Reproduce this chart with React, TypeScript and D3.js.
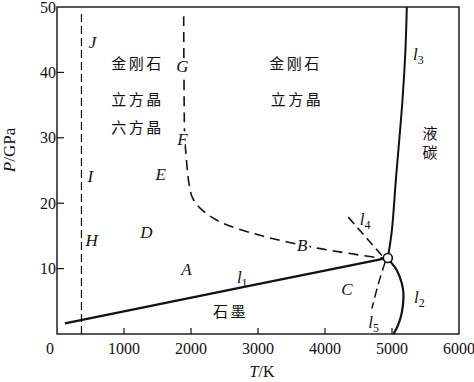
import React from 'react';
import * as d3 from 'd3';

const W = 474;
const H = 382;

const tempTicks = [0, 1000, 2000, 3000, 4000, 5000, 6000];
const presTicks = [0, 10, 20, 30, 40, 50];

const triplePoint: [number, number] = [4938, 11.63];

// solid lines
const lineL1: [number, number][] = [[119, 1.63], [2739, 7.1], [4938, 11.63]];
const lineL2: [number, number][] = [[4938, 11.63], [4990, 10.9], [5072, 9.76], [5147, 7.73], [5171, 6.2], [5160, 4.2], [5132, 2.64], [5080, 1.1], [5022, 0]];
const lineL3: [number, number][] = [[4938, 11.63], [4998, 15.85], [5057, 23.5], [5156, 35.7], [5200, 43.3], [5221, 50]];

// dashed lines
const lineL4: [number, number][] = [[4849, 12.0], [4328, 18.1]];
const lineL5: [number, number][] = [[4898, 11.0], [4798, 7.73], [4700, 3.9]];
const lineBFG: [number, number][] = [[1891, 48.6], [1895, 40], [1906, 30.1], [1921, 28.0], [1970, 23.0], [2020, 20.9], [2144, 19.16], [2442, 17.1], [2937, 15.35], [3435, 14.07], [3930, 13.06], [4775, 11.7], [4900, 11.63]];
const lineJI: [number, number][] = [[365, 0], [365, 49.4]];

// letter labels [T, P, text, sits on a line]
const letterLabels: [number, number, string, boolean][] = [
  [531, 44.6, 'J', false],
  [1871, 41.0, 'G', true],
  [1871, 29.8, 'F', true],
  [1548, 24.5, 'E', false],
  [496, 24.2, 'I', false],
  [517, 14.3, 'H', false],
  [1335, 15.6, 'D', false],
  [1931, 10.0, 'A', false],
  [3658, 13.6, 'B', true],
  [4328, 6.8, 'C', false],
];

// line labels [T, P, index]
const lineLabels: [number, number, string][] = [
  [2765, 8.7, '1'],
  [5409, 5.7, '2'],
  [5394, 42.8, '3'],
  [4600, 17.6, '4'],
  [4724, 1.9, '5'],
];

// Chinese region labels [T, P, text]
const regionLabels: [number, number, string][] = [
  [1201, 41.3, '金刚石'],
  [1201, 35.9, '立方晶'],
  [1201, 31.6, '六方晶'],
  [3558, 41.3, '金刚石'],
  [3583, 35.9, '立方晶'],
  [2590, 3.4, '石墨'],
];
const liquidLabel: [number, number, string[]] = [5568, 30.6, ['液', '碳']];

const serif = '"Liberation Serif", "DejaVu Serif", serif';
const cjk = '"Noto Sans CJK SC", sans-serif';

export default function App() {
  const x = d3.scaleLinear().domain([0, 6000]).range([57, 459]);
  const y = d3.scaleLinear().domain([0, 50]).range([334, 7]);

  const straight = d3.line<[number, number]>().x(d => x(d[0])).y(d => y(d[1]));
  const smooth = d3.line<[number, number]>().x(d => x(d[0])).y(d => y(d[1])).curve(d3.curveCatmullRom.alpha(0.5));

  return (
    <svg width={W} height={H} style={{ position: 'absolute', left: 0, top: 0, background: '#fff' }}>
      <rect x={0} y={0} width={W} height={H} fill="#fff" />
      {/* frame */}
      <rect x={x(0)} y={y(50)} width={x(6000) - x(0)} height={y(0) - y(50)} fill="none" stroke="#111" strokeWidth={1.4} />
      {/* ticks */}
      {tempTicks.slice(1, -1).map(t => (
        <line key={'tx' + t} x1={x(t)} x2={x(t)} y1={y(0)} y2={y(0) - 6} stroke="#111" strokeWidth={1.2} />
      ))}
      {presTicks.slice(1, -1).map(p => (
        <line key={'ty' + p} x1={x(0)} x2={x(0) + 7} y1={y(p)} y2={y(p)} stroke="#111" strokeWidth={1.2} />
      ))}
      {/* tick labels */}
      {tempTicks.map(t => (
        <text key={'lx' + t} x={t === 0 ? x(0) - 7 : x(t)} y={354} textAnchor="middle" fontFamily={serif} fontSize={16} fill="#111">{t}</text>
      ))}
      {presTicks.slice(1).map(p => (
        <text key={'ly' + p} x={x(0) - 1} y={y(p)} dy="0.35em" textAnchor="end" fontFamily={serif} fontSize={16} fill="#111">{p}</text>
      ))}
      {/* axis titles */}
      <text x={262} y={377} textAnchor="middle" fontFamily={serif} fontSize={16} fill="#111">
        <tspan fontStyle="italic">T</tspan>/K
      </text>
      <text transform={`translate(15,150) rotate(-90)`} textAnchor="middle" fontFamily={serif} fontSize={17} fill="#111">
        <tspan fontStyle="italic">P</tspan>/GPa
      </text>

      {/* dashed lines */}
      <path d={straight(lineJI) || ''} fill="none" stroke="#111" strokeWidth={1.2} strokeDasharray="8 4" />
      <path d={smooth(lineBFG) || ''} fill="none" stroke="#111" strokeWidth={1.6} strokeDasharray="10 6" />
      <path d={straight(lineL4) || ''} fill="none" stroke="#111" strokeWidth={1.6} strokeDasharray="9 5" />
      <path d={smooth(lineL5) || ''} fill="none" stroke="#111" strokeWidth={1.5} strokeDasharray="9 5" />

      {/* solid lines */}
      <path d={straight(lineL1) || ''} fill="none" stroke="#111" strokeWidth={2.2} />
      <path d={smooth(lineL2) || ''} fill="none" stroke="#111" strokeWidth={2.2} />
      <path d={smooth(lineL3) || ''} fill="none" stroke="#111" strokeWidth={2} />

      <circle cx={x(triplePoint[0])} cy={y(triplePoint[1])} r={4.5} fill="#fff" stroke="#111" strokeWidth={1.6} />

      {/* letter labels */}
      {letterLabels.map(([t, p, s, onLine], i) => (
        <text key={'ll' + i} x={x(t)} y={y(p)} dy="0.35em" textAnchor="middle" fontFamily={serif} fontStyle="italic" fontSize={17} fill="#111"
          stroke={onLine ? '#fff' : 'none'} strokeWidth={onLine ? 5 : 0} paintOrder="stroke" strokeLinejoin="round">{s}</text>
      ))}
      {lineLabels.map(([t, p, s], i) => (
        <text key={'ln' + i} x={x(t)} y={y(p)} dy="0.35em" textAnchor="middle" fontFamily={serif} fontSize={17} fill="#111">
          <tspan fontStyle="italic">l</tspan>
          <tspan fontSize={12} dy="4">{s}</tspan>
        </text>
      ))}
      {regionLabels.map(([t, p, s], i) => (
        <text key={'rl' + i} x={x(t)} y={y(p)} dy="0.36em" textAnchor="middle" fontFamily={cjk} fontSize={15} letterSpacing={2.5} fill="#111">{s}</text>
      ))}
      {liquidLabel[2].map((c, i) => (
        <text key={'lq' + i} x={x(liquidLabel[0])} y={y(liquidLabel[1]) + i * 19} dy="0.36em" textAnchor="middle" fontFamily={cjk} fontSize={15} fill="#111">{c}</text>
      ))}
    </svg>
  );
}
